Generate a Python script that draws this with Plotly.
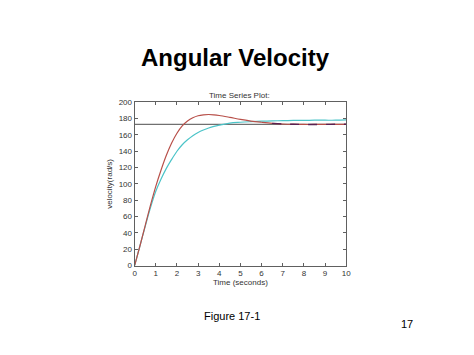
import plotly.graph_objects as go

t = [0, 0.25, 0.5, 0.75, 1, 1.25, 1.5, 1.75, 2, 2.25, 2.5, 2.75, 3, 3.25, 3.5, 3.75, 4,
     4.5, 5, 5.5, 6, 6.5, 7, 7.5, 8, 8.5, 9, 9.5, 10]
red = [0, 24, 49, 74, 97, 117, 135, 150, 162, 171, 177, 181, 183.5, 184.6, 185, 184.6, 183.8,
       181.5, 179, 177, 175.5, 174.2, 173.4, 173, 172.8, 172.8, 172.9, 173, 173]
cyan = [0, 24, 48, 71, 91, 106, 119, 130, 140, 148, 154, 159, 163, 166, 168.5, 170.5, 172,
        174.5, 175.5, 176.2, 176.8, 177.2, 177.5, 177.7, 177.8, 178, 178, 178, 178.5]
tail_t = [6.5, 7, 7.5, 8, 8.5, 9, 9.5, 10]
tail = [174.2, 173.4, 173, 172.8, 172.8, 172.9, 173, 173]
setpoint_t = [0, 10]
setpoint = [173, 173]

xticks = list(range(0, 11))
yticks = list(range(0, 201, 20))

fig = go.Figure()
fig.add_trace(go.Scatter(x=setpoint_t, y=setpoint, mode="lines",
                         line=dict(color="#707070", width=1.2), showlegend=False))
fig.add_trace(go.Scatter(x=t, y=cyan, mode="lines", line=dict(color="#4cc4c8", width=1.2),
                         showlegend=False, line_shape="spline"))
fig.add_trace(go.Scatter(x=t, y=red, mode="lines", line=dict(color="#b8504a", width=1.2),
                         showlegend=False, line_shape="spline"))
fig.add_trace(go.Scatter(x=tail_t, y=tail, mode="lines",
                         line=dict(color="#5a2050", width=1.4, dash="dash"),
                         showlegend=False, line_shape="spline"))

axis_common = dict(showgrid=False, zeroline=False, showline=True, mirror="ticks",
                   linecolor="#606060", linewidth=1, ticks="inside", ticklen=3,
                   tickcolor="#606060", tickfont=dict(family="Liberation Sans", size=8, color="#333"))

def note(text, x, y, size, color="black"):
    return dict(text=text, x=x / 474, y=1 - y / 355, xref="paper", yref="paper",
                xanchor="center", yanchor="middle", showarrow=False,
                font=dict(family="Liberation Sans", size=size, color=color))

fig.update_layout(
    width=474, height=355, margin=dict(l=0, r=0, t=0, b=0),
    paper_bgcolor="white", plot_bgcolor="white",
    xaxis=dict(range=[0, 10], tickvals=xticks, domain=[0.284, 0.737], **axis_common,
               title=dict(text="Time (seconds)", font=dict(family="Liberation Sans", size=8, color="#333"),
                          standoff=2)),
    yaxis=dict(range=[0, 200], tickvals=yticks, domain=[0.244, 0.716], **axis_common,
               title=dict(text="velocity(rad/s)", font=dict(family="Liberation Sans", size=8, color="#333"),
                          standoff=4)),
    annotations=[
        note("<b>Angular Velocity</b>", 237, 55, 24),
        note("Time Series Plot:", 241, 94, 8, "#333"),
        note("Figure 17-1", 233, 320, 11),
        note("17", 411, 328, 11),
    ],
)

fig.write_html("out.html")
